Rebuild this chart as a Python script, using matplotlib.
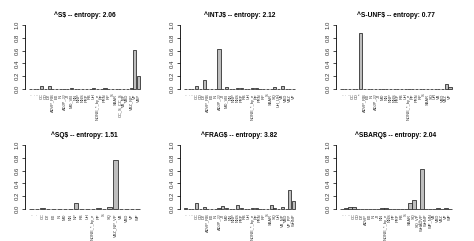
import matplotlib
matplotlib.use("Agg")
import matplotlib.pyplot as plt
import numpy as np

plt.rcParams['font.family'] = ['Liberation Sans', 'DejaVu Sans']

titles = ["^S$ -- entropy: 2.06", "^INTJ$ -- entropy: 2.12", "^S-UNF$ -- entropy: 0.77",
          "^SQ$ -- entropy: 1.51", "^FRAG$ -- entropy: 3.82", "^SBARQ$ -- entropy: 2.04"]

labels_s = [",", ".", ":", "CC", "CD", "DT", "ADVP_RB", "EX", "IN", "ADJP_JJ", "JJ", "MD_VB",
            "NN", "NNP", "NNS", "PRP", "RB", "UH", "NONE_*_by_e", "PP", "PRN", "RP",
            "S", "SBAR", "CC_S_CC_S", "VB_NP", "VBD", "VBZ_NP", "VP", "VBP"]
values_s = [0.005, 0.005, 0.005, 0.05, 0.0, 0.04, 0.0, 0.0, 0.005, 0.0, 0.0, 0.02,
            0.0, 0.0, 0.005, 0.0, 0.0, 0.01, 0.0, 0.0, 0.01, 0.0, 0.0, 0.005,
            0.0, 0.0, 0.005, 0.01, 0.61, 0.20]

labels_intj = [",", ".", ":", "CC", "CD", "DT", "ADVP_RB", "EX", "IN", "ADJP_JJ", "JJ", "MD_VB",
               "NN", "NNP", "NNS", "PRP", "RB", "UH", "NONE_*_by_e", "PP", "PRN", "RP",
               "S", "SBAR", "SQ", "UH_UH", "VB", "VBD", "VBZ", "VP"]
values_intj = [0.0, 0.0, 0.0, 0.04, 0.0, 0.14, 0.0, 0.0, 0.005, 0.62, 0.0, 0.03,
               0.0, 0.0, 0.015, 0.02, 0.0, 0.0, 0.02, 0.01, 0.0, 0.0, 0.005, 0.0,
               0.025, 0.0, 0.05, 0.0, 0.0, 0.0]

labels_sunf = [",", ".", ":", "CC", "CD", "*", "ADVP_RB", "EX", "IN", "ADJP_JJ", "JJ", "MD",
               "NN", "NNP", "NNS", "PRP", "RB", "UH", "NONE_*_by_e", "PP", "PRN", "RP",
               "S", "SBAR", "SQ", "UH", "VB", "VBD", "VBZ", "VP"]
values_sunf = [0.0, 0.0, 0.0, 0.0, 0.0, 0.87, 0.0, 0.0, 0.0, 0.0, 0.0, 0.0,
               0.0, 0.0, 0.0, 0.0, 0.0, 0.0, 0.0, 0.0, 0.0, 0.0, 0.0, 0.0,
               0.0, 0.0, 0.0, 0.0, 0.08, 0.03]

labels_sq = [",", ".", "CC", "DT", "EX", "IN", "MD", "NN", "NP", "RB", "UH",
             "NONE_*_by_e", "PP", "S", "SQ", "VBZ_NP_VP", "VB", "VBD", "VP", "WP"]
values_sq = [0.003, 0.005, 0.01, 0.003, 0.003, 0.003, 0.003, 0.0, 0.09, 0.0, 0.0,
             0.0, 0.015, 0.0, 0.03, 0.77, 0.008, 0.005, 0.005, 0.003]

labels_frag = [",", ".", ":", "CC", "CD", "DT", "ADVP_RB", "EX", "IN", "ADJP_JJ", "JJ", "MD",
               "NN", "NNP", "NNS", "PRP", "RB", "UH", "NONE_*_by_e", "PP", "PRN", "RP",
               "S", "SBAR", "SQ", "UH", "VB_NP", "VBD", "VP_PP", "WHNP"]
values_frag = [0.015, 0.0, 0.0, 0.10, 0.0, 0.03, 0.0, 0.005, 0.0, 0.02, 0.05, 0.02,
               0.005, 0.0, 0.07, 0.01, 0.0, 0.0, 0.01, 0.01, 0.0, 0.0, 0.005, 0.06,
               0.02, 0.0, 0.025, 0.0, 0.30, 0.12]

labels_sbarq = [",", ".", ":", "CC", "CD", "DT", "ADVP", "EX", "IN", "JJ", "NN",
                "NONE_*_by_e", "NNS", "PP", "PRP", "RB", "S", "SBAR", "SQ", "SQ_VP",
                "WHADVP", "WHNP", "WP_NN", "VB", "VBD", "VBZ", "VP", "WP"]
values_sbarq = [0.0, 0.015, 0.025, 0.025, 0.0, 0.0, 0.005, 0.0, 0.0, 0.0, 0.01,
                0.015, 0.0, 0.0, 0.0, 0.0, 0.0, 0.09, 0.14, 0.0, 0.63, 0.005, 0.0,
                0.0, 0.01, 0.0, 0.015, 0.005]

panels = [(labels_s, values_s), (labels_intj, values_intj), (labels_sunf, values_sunf),
          (labels_sq, values_sq), (labels_frag, values_frag), (labels_sbarq, values_sbarq)]

W, H = 474, 241
fig = plt.figure(figsize=(W / 100, H / 100), dpi=100)

col_left = [24.5, 179.5, 336.0]
ax_w = 120.0
row_top = [22.4, 142.4]
ax_h = 69.2

for k, (labs, vals) in enumerate(panels):
    r, c = divmod(k, 3)
    left = col_left[c] / W
    bottom = 1 - (row_top[r] + ax_h) / H
    ax = fig.add_axes([left, bottom, ax_w / W, ax_h / H])
    n = len(vals)
    centers = 0.7 + 1.2 * np.arange(n)
    ax.bar(centers, vals, width=1.0, color="#BEBEBE", edgecolor="#222222", linewidth=0.55)
    rng = 1.2 * n - 0.2
    ax.set_xlim(0.2 - 0.04 * rng, 1.2 * n + 0.04 * rng)
    ax.set_ylim(-0.04, 1.04)
    for s in ["top", "right", "bottom"]:
        ax.spines[s].set_visible(False)
    ax.spines["left"].set_bounds(0, 1)
    ax.spines["left"].set_linewidth(0.6)
    ax.set_yticks([0, 0.2, 0.4, 0.6, 0.8, 1.0])
    ax.set_yticklabels(["0.0", "0.2", "0.4", "0.6", "0.8", "1.0"], rotation=90,
                       va="center", fontsize=4.3, color="#333333")
    ax.tick_params(axis="y", length=2.2, width=0.5, pad=1.5)
    ax.set_xticks(centers)
    ax.set_xticklabels(labs, rotation=90, fontsize=2.9, color="#333333")
    ax.tick_params(axis="x", length=0, pad=1.5)
    ax.set_title(titles[k], fontsize=4.8, fontweight="bold", pad=4)
    ax.patch.set_alpha(0)

fig.savefig("out.png", dpi=100, facecolor="white")
